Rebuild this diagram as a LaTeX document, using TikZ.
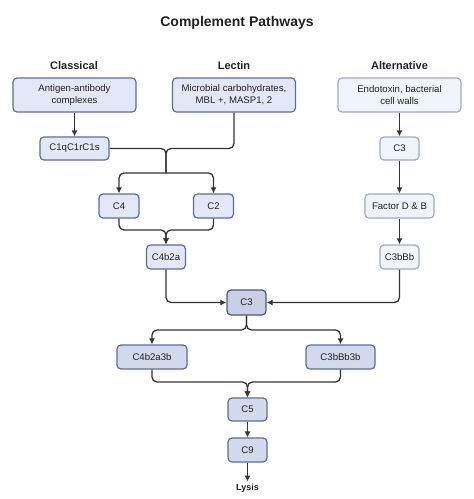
\documentclass[tikz,border=0pt]{standalone}
\usepackage{fontspec}
\setmainfont{Liberation Sans}
\usetikzlibrary{arrows.meta}

\definecolor{boxfill}{HTML}{E3E8F8}
\definecolor{boxline}{HTML}{5F6C9A}
\definecolor{altfill}{HTML}{F2F4FB}
\definecolor{altline}{HTML}{A0A9C8}
\definecolor{midfill}{HTML}{C8CFE6}
\definecolor{lowfill}{HTML}{D4DAEE}
\definecolor{wire}{HTML}{333333}
\definecolor{ink}{HTML}{222222}

\tikzset{
  pbox/.style={draw=boxline, fill=boxfill, line width=1.2pt, rounded corners=4pt,
    inner sep=0pt, minimum width=40pt, minimum height=24pt, align=center,
    text=ink, font=\fontsize{9.6}{12}\selectfont},
  bigbox/.style={pbox, minimum width=123pt, minimum height=34pt},
  altbox/.style={draw=altline, fill=altfill},
  midbox/.style={draw=boxline!80!black, fill=midfill},
  lowbox/.style={fill=lowfill},
  head/.style={text=ink, font=\fontsize{11}{13}\selectfont\bfseries},
  link/.style={draw=wire, line width=1.3pt, rounded corners=5pt},
  arr/.style={link, -{Latex[length=6pt,width=6pt]}}
}

\begin{document}
\begin{tikzpicture}[x=1pt,y=-1pt]
    \useasboundingbox (0,0) rectangle (474,499);

    %% Title and pathway headers
    \node[text=ink, font=\fontsize{14}{16}\selectfont\bfseries] (title) at (237,23) {Complement Pathways};
    \node[head] (hclass) at (74,66) {Classical};
    \node[head] (hlect) at (234,66) {Lectin};
    \node[head] (halt) at (399.5,66) {Alternative};

    %% Triggers
    \node[bigbox] (antigen) at (74.5,95) {Antigen-antibody\\complexes};
    \node[bigbox] (mbl) at (234,95) {Microbial carbohydrates,\\MBL +, MASP1, 2};
    \node[bigbox, altbox] (endo) at (399.5,95) {Endotoxin, bacterial\\cell walls};

    %% Classical / lectin branch
    \node[pbox, minimum width=69pt, minimum height=23pt] (c1) at (74.5,148.5) {C1qC1rC1s};
    \node[pbox] (c4) at (119,206) {C4};
    \node[pbox] (c2) at (213.5,206) {C2};
    \node[pbox, minimum width=39pt] (c4b2a) at (166,257) {C4b2a};

    %% Alternative branch
    \node[pbox, altbox, minimum width=39pt, minimum height=23pt] (c3alt) at (399.5,148.5) {C3};
    \node[pbox, altbox, minimum width=69pt] (fdb) at (399.5,206) {Factor D \& B};
    \node[pbox, altbox, minimum width=39pt] (c3bbb) at (399.5,257) {C3bBb};

    %% Common pathway
    \node[pbox, midbox, minimum width=39pt, minimum height=25pt] (c3) at (246.5,302.5) {C3};
    \node[pbox, lowbox, minimum width=70pt] (c5conv) at (152,357) {C4b2a3b};
    \node[pbox, lowbox, minimum width=69pt] (c5alt) at (340.5,357) {C3bBb3b};
    \node[pbox, lowbox, minimum width=39pt, minimum height=23pt] (c5) at (247.5,409.5) {C5};
    \node[pbox, lowbox, minimum width=39pt, minimum height=24pt] (c9) at (247.5,450) {C9};
    \node[text=ink, font=\fontsize{9}{11}\selectfont\bfseries, inner sep=2pt] (lysis) at (247.5,488) {Lysis};

    % junctions
    \coordinate (j1) at (166,173);
    \coordinate (j2) at (166,230);
    \coordinate (j3) at (246.5,330);
    \coordinate (j4) at (247.5,382);

    %% Connectors
    \draw[arr] (antigen) -- (c1);
    \draw[link] (c1.east) -| (j1);
    \draw[link] (mbl.south) |- (c1.east -| j1) -- (j1);
    \draw[arr] (j1) -| (c4.north);
    \draw[arr] (j1) -| (c2.north);
    \draw[arr] (c4.south) |- (j2) -- (c4b2a.north);
    \draw[arr] (c2.south) |- (j2) -- (c4b2a.north);
    \draw[arr] (c4b2a.south) |- (c3.west);

    \draw[arr] (endo) -- (c3alt);
    \draw[arr] (c3alt) -- (fdb);
    \draw[arr] (fdb) -- (c3bbb);
    \draw[arr] (c3bbb.south) |- (c3.east);

    \draw[arr] (c3.south) -- (j3) -| (c5conv.north);
    \draw[arr] (c3.south) -- (j3) -| (c5alt.north);
    \draw[arr] (c5conv.south) |- (j4) -- (c5.north);
    \draw[arr] (c5alt.south) |- (j4) -- (c5.north);
    \draw[arr] (c5) -- (c9);
    \draw[arr] (c9) -- (lysis);

\end{tikzpicture}
\end{document}
